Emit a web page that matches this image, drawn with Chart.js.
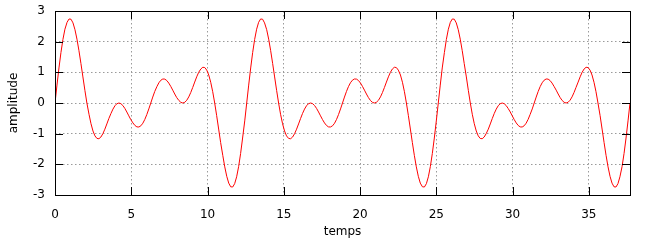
<!DOCTYPE html>
<html>
<head>
<meta charset="utf-8">
<script src="https://cdn.jsdelivr.net/npm/chart.js@4"></script>
<style>
  html, body { margin: 0; padding: 0; background: #ffffff; }
  #wrap { width: 650px; height: 250px; position: relative; }
</style>
</head>
<body>
<div id="wrap"><canvas id="c" width="650" height="250"></canvas></div>
<script>
// x sample positions (temps)
const temps = [
0.00,0.13,0.26,0.39,0.52,0.65,0.79,0.92,1.05,1.18,1.31,1.44,1.57,1.70,1.83,1.96,2.09,2.23,2.36,2.49,2.62,2.75,2.88,3.01,3.14,3.27,3.40,3.53,3.67,3.80,3.93,4.06,4.19,4.32,4.45,4.58,4.71,4.84,4.97,5.11,5.24,5.37,5.50,5.63,5.76,5.89,6.02,6.15,6.28,
6.41,6.54,6.68,6.81,6.94,7.07,7.20,7.33,7.46,7.59,7.72,7.85,7.98,8.12,8.25,8.38,8.51,8.64,8.77,8.90,9.03,9.16,9.29,9.42,9.56,9.69,9.82,9.95,10.08,10.21,10.34,10.47,10.60,10.73,10.86,11.00,11.13,11.26,11.39,11.52,11.65,11.78,11.91,12.04,12.17,12.30,12.44,
12.57,12.70,12.83,12.96,13.09,13.22,13.35,13.48,13.61,13.74,13.88,14.01,14.14,14.27,14.40,14.53,14.66,14.79,14.92,15.05,15.18,15.32,15.45,15.58,15.71,15.84,15.97,16.10,16.23,16.36,16.49,16.62,16.76,16.89,17.02,17.15,17.28,17.41,17.54,17.67,17.80,17.93,18.06,18.20,18.33,18.46,18.59,18.72,
18.85,18.98,19.11,19.24,19.37,19.50,19.63,19.77,19.90,20.03,20.16,20.29,20.42,20.55,20.68,20.81,20.94,21.07,21.21,21.34,21.47,21.60,21.73,21.86,21.99,22.12,22.25,22.38,22.51,22.65,22.78,22.91,23.04,23.17,23.30,23.43,23.56,23.69,23.82,23.95,24.09,24.22,24.35,24.48,24.61,24.74,24.87,25.00,
25.13,25.26,25.39,25.53,25.66,25.79,25.92,26.05,26.18,26.31,26.44,26.57,26.70,26.83,26.97,27.10,27.23,27.36,27.49,27.62,27.75,27.88,28.01,28.14,28.27,28.41,28.54,28.67,28.80,28.93,29.06,29.19,29.32,29.45,29.58,29.71,29.85,29.98,30.11,30.24,30.37,30.50,30.63,30.76,30.89,31.02,31.15,31.29,
31.42,31.55,31.68,31.81,31.94,32.07,32.20,32.33,32.46,32.59,32.72,32.86,32.99,33.12,33.25,33.38,33.51,33.64,33.77,33.90,34.03,34.16,34.30,34.43,34.56,34.69,34.82,34.95,35.08,35.21,35.34,35.47,35.60,35.74,35.87,36.00,36.13,36.26,36.39,36.52,36.65,36.78,36.91,37.04,37.18,37.31,37.44,37.57,
37.70
];

// amplitude values
const amplitude = [
0,0.584,1.142,1.645,2.073,2.406,2.631,2.740,2.732,2.612,2.390,2.082,1.707,1.288,0.849,0.412,0,-0.368,-0.676,-0.913,-1.073,-1.156,-1.165,-1.109,-1,-0.853,-0.683,-0.507,-0.341,-0.199,-0.090,-0.023,0,-0.022,-0.083,-0.177,-0.293,-0.419,-0.542,-0.650,-0.732,-0.779,-0.783,-0.743,-0.659,-0.534,-0.376,-0.194,
0,0.194,0.376,0.534,0.659,0.743,0.783,0.779,0.732,0.650,0.542,0.419,0.293,0.177,0.083,0.022,0,0.023,0.090,0.199,0.341,0.507,0.683,0.853,1,1.109,1.165,1.156,1.073,0.913,0.676,0.368,0,-0.412,-0.849,-1.288,-1.707,-2.082,-2.390,-2.612,-2.732,-2.740,-2.631,-2.406,-2.073,-1.645,-1.142,-0.584,
0,0.584,1.142,1.645,2.073,2.406,2.631,2.740,2.732,2.612,2.390,2.082,1.707,1.288,0.849,0.412,0,-0.368,-0.676,-0.913,-1.073,-1.156,-1.165,-1.109,-1,-0.853,-0.683,-0.507,-0.341,-0.199,-0.090,-0.023,0,-0.022,-0.083,-0.177,-0.293,-0.419,-0.542,-0.650,-0.732,-0.779,-0.783,-0.743,-0.659,-0.534,-0.376,-0.194,
0,0.194,0.376,0.534,0.659,0.743,0.783,0.779,0.732,0.650,0.542,0.419,0.293,0.177,0.083,0.022,0,0.023,0.090,0.199,0.341,0.507,0.683,0.853,1,1.109,1.165,1.156,1.073,0.913,0.676,0.368,0,-0.412,-0.849,-1.288,-1.707,-2.082,-2.390,-2.612,-2.732,-2.740,-2.631,-2.406,-2.073,-1.645,-1.142,-0.584,
0,0.584,1.142,1.645,2.073,2.406,2.631,2.740,2.732,2.612,2.390,2.082,1.707,1.288,0.849,0.412,0,-0.368,-0.676,-0.913,-1.073,-1.156,-1.165,-1.109,-1,-0.853,-0.683,-0.507,-0.341,-0.199,-0.090,-0.023,0,-0.022,-0.083,-0.177,-0.293,-0.419,-0.542,-0.650,-0.732,-0.779,-0.783,-0.743,-0.659,-0.534,-0.376,-0.194,
0,0.194,0.376,0.534,0.659,0.743,0.783,0.779,0.732,0.650,0.542,0.419,0.293,0.177,0.083,0.022,0,0.023,0.090,0.199,0.341,0.507,0.683,0.853,1,1.109,1.165,1.156,1.073,0.913,0.676,0.368,0,-0.412,-0.849,-1.288,-1.707,-2.082,-2.390,-2.612,-2.732,-2.740,-2.631,-2.406,-2.073,-1.645,-1.142,-0.584,
0
];

const xTicks = [0, 5, 10, 15, 20, 25, 30, 35];
const yTicks = [-3, -2, -1, 0, 1, 2, 3];
const xMin = 0, xMax = 37.7;
const yMin = -3, yMax = 3;

const FONT = { family: "'DejaVu Sans', sans-serif", size: 12 };

const frameAndTicks = {
  id: 'frameAndTicks',
  afterDatasetsDraw(chart) {
    const ctx = chart.ctx;
    const a = chart.chartArea;
    const xs = chart.scales.x, ys = chart.scales.y;
    const L = 8;
    ctx.save();
    ctx.strokeStyle = '#000';
    ctx.lineWidth = 1;
    ctx.beginPath();
    xTicks.forEach(v => {
      const px = Math.round(xs.getPixelForValue(v)) + 0.5;
      ctx.moveTo(px, a.bottom); ctx.lineTo(px, a.bottom - L);
      ctx.moveTo(px, a.top); ctx.lineTo(px, a.top + L);
    });
    yTicks.forEach(v => {
      const py = Math.round(ys.getPixelForValue(v)) + 0.5;
      ctx.moveTo(a.left, py); ctx.lineTo(a.left + L, py);
      ctx.moveTo(a.right, py); ctx.lineTo(a.right - L, py);
    });
    ctx.stroke();
    ctx.strokeRect(Math.round(a.left) + 0.5, Math.round(a.top) + 0.5,
                   Math.round(a.right - a.left), Math.round(a.bottom - a.top));
    ctx.restore();
  }
};

new Chart(document.getElementById('c'), {
  type: 'line',
  data: {
    datasets: [{
      data: temps.map((t, i) => ({ x: t, y: amplitude[i] })),
      borderColor: '#ff0000',
      borderWidth: 1,
      pointRadius: 0,
      tension: 0,
      fill: false
    }]
  },
  options: {
    responsive: false,
    animation: false,
    devicePixelRatio: 1,
    layout: { padding: { top: 11, right: 20, left: 0, bottom: 0 } },
    plugins: { legend: { display: false }, tooltip: { enabled: false } },
    scales: {
      x: {
        type: 'linear',
        min: xMin, max: xMax,
        afterBuildTicks: s => { s.ticks = xTicks.map(v => ({ value: v })); },
        afterFit: s => { s.height = 55; s.paddingLeft = 0; s.paddingRight = 0; },
        grid: { color: '#9a9a9a', lineWidth: 1, drawTicks: false },
        border: { display: false, dash: [1.5, 2.5] },
        ticks: { color: '#000', font: FONT, padding: 13, maxRotation: 0, autoSkip: false },
        title: { display: true, text: 'temps', color: '#000', font: FONT, padding: { top: 0, bottom: 11 } }
      },
      y: {
        type: 'linear',
        min: yMin, max: yMax,
        afterBuildTicks: s => { s.ticks = yTicks.map(v => ({ value: v })); },
        afterFit: s => { s.width = 55; s.paddingTop = 0; s.paddingBottom = 0; },
        grid: { color: '#9a9a9a', lineWidth: 1, drawTicks: false },
        border: { display: false, dash: [1.5, 2.5] },
        ticks: { color: '#000', font: FONT, padding: 10, autoSkip: false },
        title: { display: true, text: 'amplitude', color: '#000', font: FONT, padding: { top: 7, bottom: 0 } }
      }
    }
  },
  plugins: [frameAndTicks]
});
</script>
</body>
</html>
